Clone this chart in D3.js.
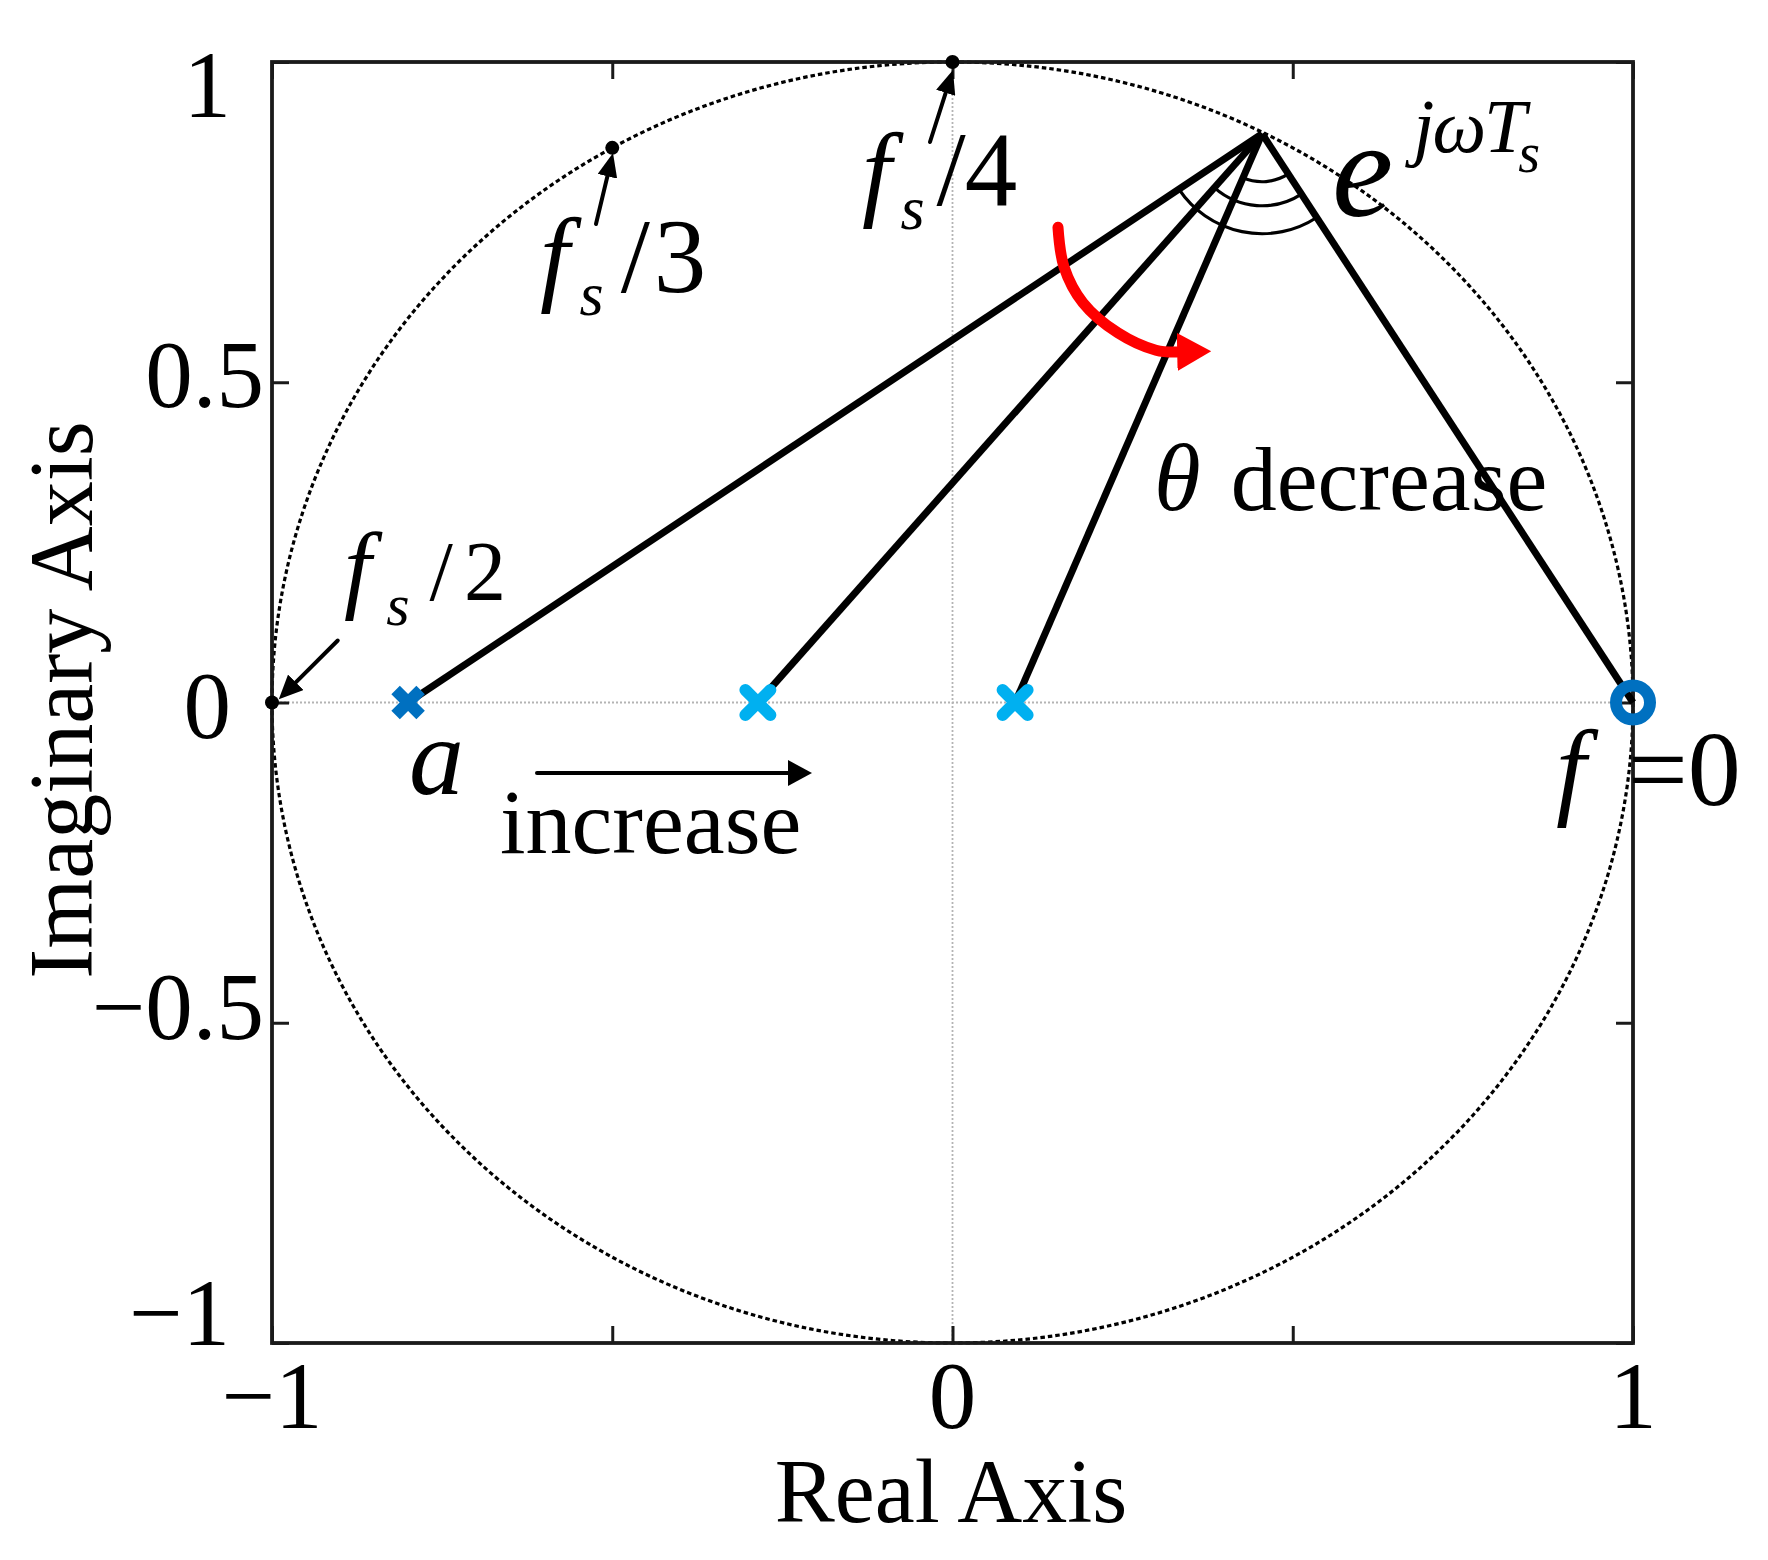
<!DOCTYPE html>
<html>
<head>
<meta charset="utf-8">
<script src="https://cdn.jsdelivr.net/npm/d3@7"></script>
<style>
  html, body { margin: 0; padding: 0; background: #fff; }
  svg { display: block; }
  text { font-family: "Liberation Serif", "Times New Roman", serif; fill: #000; }
</style>
</head>
<body>
<svg id="chart" width="1768" height="1560"></svg>
<script>
// ---------------- data ----------------
const xTickValues = [-1, -0.5, 0, 0.5, 1];
const xTickLabels = ["−1", "", "0", "", "1"];
const yTickValues = [-1, -0.5, 0, 0.5, 1];
const yTickLabels = ["−1", "−0.5", "0", "0.5", "1"];

const poleRe = [-0.8, -0.286, 0.092];   // poles (x markers) on the real axis
const poleIm = [0, 0, 0];
const zeroRe = [1];                     // zero (o marker)
const zeroIm = [0];

const evalRe = 0.455;                   // point e^{jωTs} on the unit circle
const evalIm = 0.888;

const markRe = [-1, -0.5, 0];           // fs/2, fs/3, fs/4 on the unit circle
const markIm = [0, 0.866, 1];

// ---------------- layout / style ----------------
const W = 1768, H = 1560;
const plot = { left: 272, right: 1633, top: 62, bottom: 1343 };
const poleColors = ["#0070C0", "#00B0F0", "#00B0F0"];
const arcRadii = [100, 72, 48];
const yLabelEnd = [230, 264, 231, 264, 231];
const yLabelDy = [2, 16, 35, 25, 55];

// annotation texts, anchored in data coordinates; each made of styled parts
const annoText = [
  { re: -0.8942, im: 0.1600, parts: [
      { t: "f", size: 98, it: true },
      { t: "s", size: 60, it: true, dx: 15, dy: 25 },
      { t: "/", size: 84, dx: 20, dy: -25 },
      { t: "2", size: 84, dx: 11 } ] },
  { re: -0.6061, im: 0.6425, parts: [
      { t: "f", size: 106, it: true },
      { t: "s", size: 62, it: true, dx: 10, dy: 24 },
      { t: "/", size: 105, dx: 17, dy: -23 },
      { t: "3", size: 105, dx: 4 } ] },
  { re: -0.1330, im: 0.7752, parts: [
      { t: "f", size: 106, it: true },
      { t: "s", size: 62, it: true, dx: 9, dy: 23 },
      { t: "/", size: 105, dx: 12, dy: -24 },
      { t: "4", size: 105, dx: -1 } ] },
  { re: 0.8868, im: -0.1600, parts: [
      { t: "f", size: 108, it: true },
      { t: "=0", size: 106, dx: 42 } ] },
  { re: 0.5577, im: 0.7596, parts: [
      { t: "e", size: 138, it: true },
      { t: "jωT", size: 76, it: true, dx: 20, dy: -64, ls: -2 },
      { t: "s", size: 56, it: true, dx: -6, dy: 20 } ] },
  { re: 0.2961, im: 0.3005, parts: [
      { t: "θ", size: 95, it: true },
      { t: "decrease", size: 92, dx: 30 } ] },
  { re: -0.7987, im: -0.1429, parts: [ { t: "a", size: 110, it: true } ] },
  { re: -0.6650, im: -0.2350, parts: [ { t: "increase", size: 92 } ] }
];

// straight black arrows: [startRe, startIm, tipRe, tipIm, headLen, headWidth, shaftWidth]
const blackArrows = [
  [-0.9034, 0.0968, -0.9900, 0.0050, 24, 22, 4],
  [-0.5239, 0.7470, -0.4989, 0.8580, 24, 20, 4],
  [-0.0331, 0.8751, 0.0007, 0.9876, 24, 20, 4],
  [-0.6106, -0.1101, -0.2065, -0.1101, 24, 26, 4]
];

// red curved arrow path (data coords), arrowhead added at its end
const redArrowRe = [0.155, 0.1639, 0.1918, 0.2432, 0.299, 0.3302];
const redArrowIm = [0.742, 0.680, 0.624, 0.577, 0.550, 0.5472];

// ---------------- drawing ----------------
const svg = d3.select("#chart");
svg.append("rect").attr("width", W).attr("height", H).attr("fill", "#fff");

const x = d3.scaleLinear().domain([-1, 1]).range([plot.left, plot.right]);
const y = d3.scaleLinear().domain([-1, 1]).range([plot.bottom, plot.top]);

const defs = svg.append("defs");
function makeMarker(id, len, wid, color) {
  defs.append("marker")
    .attr("id", id)
    .attr("markerUnits", "userSpaceOnUse")
    .attr("viewBox", `0 ${-wid / 2} ${len} ${wid}`)
    .attr("markerWidth", len).attr("markerHeight", wid)
    .attr("refX", 0).attr("refY", 0)
    .attr("orient", "auto")
    .append("path")
    .attr("d", `M0,${-wid / 2}L${len},0L0,${wid / 2}Z`)
    .attr("fill", color);
}

// zero grid lines
const grid = svg.append("g");
grid.append("line")
  .attr("x1", x(0)).attr("x2", x(0)).attr("y1", plot.top).attr("y2", plot.bottom)
  .attr("stroke", "#b4b4b4").attr("stroke-width", 1.8).attr("stroke-dasharray", "2,2");
grid.append("line")
  .attr("x1", plot.left).attr("x2", plot.right).attr("y1", y(0)).attr("y2", y(0))
  .attr("stroke", "#b4b4b4").attr("stroke-width", 1.8).attr("stroke-dasharray", "2,2");

// unit circle (ellipse in pixel space, via the scales)
svg.append("ellipse")
  .attr("cx", x(0)).attr("cy", y(0))
  .attr("rx", x(1) - x(0)).attr("ry", y(0) - y(1))
  .attr("fill", "none").attr("stroke", "#000")
  .attr("stroke-width", 3.2).attr("stroke-dasharray", "4.5,3");

// axes box and inner ticks
const axes = svg.append("g");
const tickLen = 17;
axes.append("g").attr("transform", `translate(0,${plot.bottom})`)
  .call(d3.axisBottom(x).tickValues(xTickValues).tickSize(-tickLen).tickFormat(""));
axes.append("g").attr("transform", `translate(0,${plot.top})`)
  .call(d3.axisTop(x).tickValues(xTickValues).tickSize(-tickLen).tickFormat(""));
axes.append("g").attr("transform", `translate(${plot.left},0)`)
  .call(d3.axisLeft(y).tickValues(yTickValues).tickSize(-tickLen).tickFormat(""));
axes.append("g").attr("transform", `translate(${plot.right},0)`)
  .call(d3.axisRight(y).tickValues(yTickValues).tickSize(-tickLen).tickFormat(""));
axes.selectAll(".domain").remove();
axes.selectAll(".tick line").attr("stroke", "#1a1a1a").attr("stroke-width", 3);
axes.append("rect")
  .attr("x", plot.left).attr("y", plot.top)
  .attr("width", plot.right - plot.left).attr("height", plot.bottom - plot.top)
  .attr("fill", "none").attr("stroke", "#1a1a1a").attr("stroke-width", 3.8);

// tick labels
svg.append("g").selectAll("text").data(xTickValues.map((v, i) => ({ v, s: xTickLabels[i] })).filter(d => d.s))
  .join("text")
  .attr("x", d => x(d.v)).attr("y", 1428)
  .attr("text-anchor", "middle").attr("font-size", 95)
  .text(d => d.s);
svg.append("g").selectAll("text").data(yTickValues.map((v, i) => ({ v, s: yTickLabels[i], i })))
  .join("text")
  .attr("x", d => yLabelEnd[d.i]).attr("y", d => y(d.v) + yLabelDy[d.i])
  .attr("text-anchor", "end").attr("font-size", 95)
  .text(d => d.s);

// axis titles
svg.append("text").attr("x", 951).attr("y", 1522).attr("text-anchor", "middle")
  .attr("font-size", 90).text("Real Axis");
svg.append("text").attr("transform", "translate(92,700) rotate(-90)")
  .attr("text-anchor", "middle").attr("font-size", 90).text("Imaginary Axis");

// vectors from poles / zero to e^{jωTs}
const V = [x(evalRe), y(evalIm)];
const vec = svg.append("g");
poleRe.forEach((re, i) => {
  vec.append("line")
    .attr("x1", x(re)).attr("y1", y(poleIm[i]))
    .attr("x2", V[0]).attr("y2", V[1])
    .attr("stroke", "#000").attr("stroke-width", 7);
});
zeroRe.forEach((re, i) => {
  vec.append("line")
    .attr("x1", x(re)).attr("y1", y(zeroIm[i]))
    .attr("x2", V[0]).attr("y2", V[1])
    .attr("stroke", "#000").attr("stroke-width", 7);
});

// angle arcs at the vertex
const Z = [x(zeroRe[0]), y(zeroIm[0])];
const aZ = Math.atan2(Z[1] - V[1], Z[0] - V[0]);
poleRe.forEach((re, i) => {
  const P = [x(re), y(poleIm[i])];
  const aP = Math.atan2(P[1] - V[1], P[0] - V[0]);
  const r = arcRadii[i];
  const s = [V[0] + r * Math.cos(aP), V[1] + r * Math.sin(aP)];
  const e = [V[0] + r * Math.cos(aZ), V[1] + r * Math.sin(aZ)];
  vec.append("path")
    .attr("d", `M${s[0]},${s[1]}A${r},${r} 0 0 0 ${e[0]},${e[1]}`)
    .attr("fill", "none").attr("stroke", "#000").attr("stroke-width", 3.2);
});

// red curved arrow
makeMarker("ah-red", 34, 38, "#ff0000");
const redLine = d3.line().x(d => x(d[0])).y(d => y(d[1])).curve(d3.curveCatmullRom);
svg.append("path")
  .attr("d", redLine(redArrowRe.map((re, i) => [re, redArrowIm[i]])))
  .attr("fill", "none").attr("stroke", "#ff0000").attr("stroke-width", 11)
  .attr("stroke-linecap", "round")
  .attr("marker-end", "url(#ah-red)");

// black straight arrows
const arrowsG = svg.append("g");
blackArrows.forEach((a, i) => {
  const id = "ah-black-" + i;
  makeMarker(id, a[4], a[5], "#000");
  const p0 = [x(a[0]), y(a[1])], p1 = [x(a[2]), y(a[3])];
  const dx = p1[0] - p0[0], dy = p1[1] - p0[1], L = Math.hypot(dx, dy);
  const b = [p1[0] - dx / L * a[4], p1[1] - dy / L * a[4]];
  arrowsG.append("line")
    .attr("x1", p0[0]).attr("y1", p0[1]).attr("x2", b[0]).attr("y2", b[1])
    .attr("stroke", "#000").attr("stroke-width", a[6])
    .attr("stroke-linecap", "round")
    .attr("marker-end", `url(#${id})`);
});

// marked frequency dots
svg.append("g").selectAll("circle").data(markRe.map((re, i) => [re, markIm[i]]))
  .join("circle")
  .attr("cx", d => x(d[0])).attr("cy", d => y(d[1])).attr("r", 7)
  .attr("fill", "#000");

// pole markers (x)
const pm = svg.append("g");
poleRe.forEach((re, i) => {
  const cx = x(re), cy = y(poleIm[i]), h = 12.5;
  pm.append("path")
    .attr("d", `M${cx - h},${cy - h}L${cx + h},${cy + h}M${cx - h},${cy + h}L${cx + h},${cy - h}`)
    .attr("stroke", poleColors[i]).attr("stroke-width", 12)
    .attr("stroke-linecap", i === 0 ? "butt" : "round")
    .attr("fill", "none");
});

// zero marker (o)
svg.append("g").selectAll("circle").data(zeroRe.map((re, i) => [re, zeroIm[i]]))
  .join("circle")
  .attr("cx", d => x(d[0])).attr("cy", d => y(d[1])).attr("r", 17)
  .attr("fill", "none").attr("stroke", "#0070C0").attr("stroke-width", 12);

// annotation texts
const annoG = svg.append("g");
annoText.forEach(a => {
  const t = annoG.append("text").attr("x", x(a.re)).attr("y", y(a.im));
  a.parts.forEach(p => {
    t.append("tspan")
      .attr("font-size", p.size)
      .attr("font-style", p.it ? "italic" : "normal")
      .attr("dx", p.dx || 0).attr("dy", p.dy || 0)
      .attr("letter-spacing", p.ls || 0)
      .text(p.t);
  });
});
</script>
</body>
</html>
